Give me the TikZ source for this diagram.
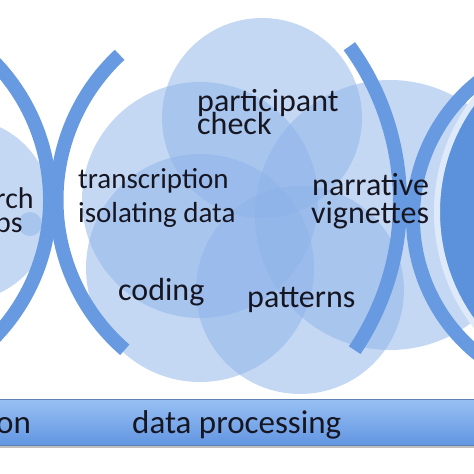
\documentclass[tikz,border=0pt]{standalone}
\usepackage{fontspec}
\setmainfont{Carlito}
\definecolor{bubblefill}{RGB}{140,178,232}
\definecolor{arcblue}{RGB}{104,154,225}
\definecolor{deepblue}{RGB}{92,146,220}
\definecolor{ringblue}{RGB}{222,234,250}
\definecolor{bartop}{RGB}{152,192,243}
\definecolor{barbottom}{RGB}{98,150,226}
\definecolor{barline}{RGB}{96,128,180}
\definecolor{ink}{RGB}{22,22,34}
\tikzset{
  bubble/.style={fill=bubblefill,fill opacity=0.5},
  band/.style={draw=arcblue,line width=14pt},
  word/.style={anchor=base west,inner sep=0pt,text=ink,font=\fontsize{32}{32}\selectfont},
  smallword/.style={word,font=\fontsize{29}{29}\selectfont}
}
\begin{document}
\begin{tikzpicture}[x=1pt,y=-1pt]
\useasboundingbox (0,0) rectangle (474,474);
\clip (0,0) rectangle (474,474);
% bubbles
\fill[bubble] (-40,210) circle [radius=92];
\fill[bubble] (30,224) circle [radius=12];
\fill[bubble] (200,200) circle [radius=118];
\fill[bubble] (200,268) circle [radius=114];
\fill[bubble] (300,290) circle [radius=104];
\fill[bubble] (262,118) circle [radius=100];
\fill[bubble] (390,215) circle [radius=135];
\draw[draw=ringblue,line width=6pt,fill=deepblue] (623,212) circle [radius=186];
% bands
\draw[band] (-148,200) ++(-60:198) arc [start angle=-60,end angle=60,radius=198];
\draw[band] (255,200) ++(131:198.5) arc [start angle=131,end angle=227,radius=198.5];
\draw[band] (135,202) ++(-36:265) arc [start angle=-36,end angle=34,radius=265];
\draw[band] (588,218) ++(120:175) arc [start angle=120,end angle=240,radius=175];
% bar
\fill[black!25] (-5,445) rectangle (479,448);
\shade[top color=bartop,bottom color=barbottom,draw=barline] (-5,399) rectangle (479,445);
% texts
\node[word] (participant) at (197,111) {participant};
\node[word] (check) at (197,134) {check};
\node[smallword] (transcription) at (78,188) {transcription};
\node[smallword] (isolating) at (78,222) {isolating data};
\node[word] (narrative) at (312,195) {narrative};
\node[word] (vignettes) at (311,223) {vignettes};
\node[word] (coding) at (118,300) {coding};
\node[word] (patterns) at (247,307) {patterns};
\node[word,font=\fontsize{30}{30}\selectfont] (research) at (-5,208) {rch};
\node[word,font=\fontsize{30}{30}\selectfont] (groups) at (-5,232) {ps};
\node[word,font=\fontsize{33}{33}\selectfont] (collection) at (-4,433) {on};
\node[word,font=\fontsize{33}{33}\selectfont] (processing) at (132,433) {data processing};
\end{tikzpicture}
\end{document}
